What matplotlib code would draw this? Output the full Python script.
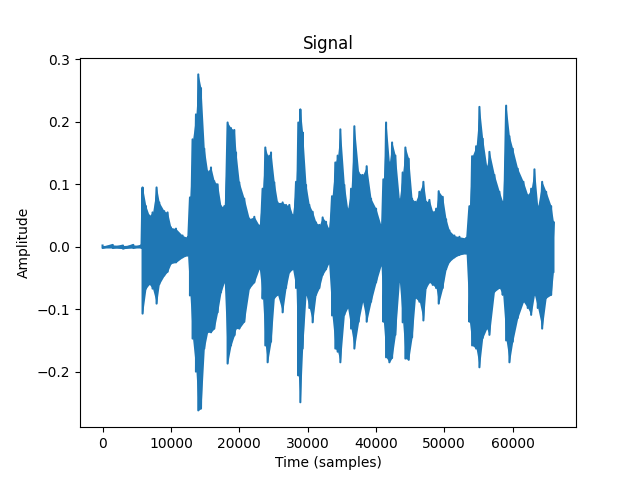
import numpy as np
import matplotlib
matplotlib.use('Agg')
import matplotlib.pyplot as plt

# envelope of the waveform (sample index, max, min)
TIMES = [
    0, 1500, 3000, 4500, 5700,
    5856, 6354, 6837, 7320, 7906, 8301, 9033, 9516, 10014, 10746, 11712, 12444,
    12795, 13176, 13674, 14010, 14406, 14889, 15372, 15870, 16353, 16836, 17334,
    17817, 18300, 18798, 19281, 19530,
    20013, 20745, 21477, 22209, 22941, 23424, 23819, 24156, 24654, 25137, 25620,
    26352, 26850, 27333, 27816, 28314, 28650, 28943, 29280, 29778, 30261, 30744,
    31242, 31725, 32208, 32706, 33086, 33584, 34067, 34404, 34799, 35385, 35868,
    36366, 36849, 37478, 38064, 38650, 39294, 40026, 40758, 41094, 41490, 41973,
    42368, 42851,
    43437, 43920, 44315, 44798, 45296, 45779, 46365, 46950, 47346, 47829, 48312,
    48810, 49190, 49776, 50274, 50757, 51489, 52221, 53202, 53685, 54080, 54666,
    55149, 55632, 56218, 56613, 57345, 58077, 58560, 59058, 59541, 60024, 60756,
    61590, 62220, 62718, 63201, 63684, 64328, 64914, 65646, 65982,
]
UPPER = [
    0.002, 0.003, 0.002, 0.003, 0.002,
    0.095, 0.065, 0.050, 0.055, 0.095, 0.071, 0.057, 0.055, 0.031, 0.029, 0.018, 0.015,
    0.079, 0.172, 0.212, 0.276, 0.254, 0.157, 0.121, 0.127, 0.105, 0.100, 0.065,
    0.065, 0.199, 0.190, 0.187, 0.151,
    0.103, 0.077, 0.045, 0.048, 0.034, 0.093, 0.159, 0.146, 0.151, 0.103, 0.071,
    0.071, 0.067, 0.067, 0.051, 0.104, 0.199, 0.220, 0.183, 0.099, 0.067, 0.056,
    0.039, 0.035, 0.047, 0.040, 0.029, 0.081, 0.135, 0.146, 0.188, 0.099, 0.061,
    0.093, 0.193, 0.119, 0.115, 0.129, 0.077, 0.061, 0.034, 0.108, 0.199, 0.135,
    0.167, 0.146,
    0.076, 0.119, 0.159, 0.141, 0.077, 0.072, 0.088, 0.104, 0.072, 0.075, 0.056,
    0.061, 0.089, 0.080, 0.044, 0.026, 0.018, 0.016, 0.014, 0.065, 0.145, 0.161,
    0.224, 0.173, 0.129, 0.152, 0.115, 0.088, 0.072, 0.226, 0.177, 0.157, 0.125,
    0.104, 0.083, 0.093, 0.124, 0.065, 0.104, 0.088, 0.065, 0.040,
]
LOWER = [
    -0.002, -0.002, -0.003, -0.002, -0.002,
    -0.107, -0.067, -0.060, -0.067, -0.091, -0.060, -0.046, -0.040, -0.027, -0.025, -0.017, -0.014,
    -0.078, -0.147, -0.200, -0.262, -0.259, -0.163, -0.137, -0.137, -0.131, -0.105, -0.073,
    -0.057, -0.187, -0.158, -0.142, -0.131,
    -0.131, -0.120, -0.067, -0.057, -0.035, -0.083, -0.158, -0.185, -0.152, -0.082, -0.077,
    -0.105, -0.066, -0.041, -0.036, -0.066, -0.206, -0.249, -0.163, -0.077, -0.098, -0.121,
    -0.077, -0.066, -0.045, -0.036, -0.027, -0.110, -0.163, -0.168, -0.185, -0.109, -0.098,
    -0.131, -0.163, -0.120, -0.088, -0.120, -0.088, -0.057, -0.030, -0.120, -0.177, -0.185,
    -0.178, -0.141,
    -0.056, -0.121, -0.179, -0.181, -0.145, -0.082, -0.088, -0.118, -0.066, -0.057, -0.061,
    -0.066, -0.091, -0.066, -0.036, -0.024, -0.017, -0.013, -0.011, -0.120, -0.158, -0.163,
    -0.193, -0.146, -0.131, -0.141, -0.072, -0.066, -0.077, -0.150, -0.185, -0.152, -0.114,
    -0.088, -0.098, -0.109, -0.077, -0.098, -0.131, -0.082, -0.077, -0.040,
]

t = np.array(TIMES)
up = np.array(UPPER)
lo = np.array(LOWER)

# zigzag between the max and min of each envelope point
zig_t = np.repeat(t, 2)
zig_y = np.column_stack([up, lo]).ravel()

fig, ax = plt.subplots(figsize=(6.4, 4.8), dpi=100)
ax.fill_between(t, lo, up, color='#1f77b4', linewidth=0)
ax.plot(zig_t, zig_y, color='#1f77b4', linewidth=1.5)
ax.set_title('Signal')
ax.set_xlabel('Time (samples)')
ax.set_ylabel('Amplitude')
fig.savefig('out.png', dpi=100)
